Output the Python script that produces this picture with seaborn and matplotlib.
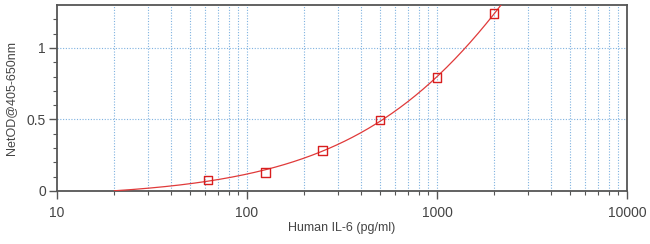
import numpy as np
import pandas as pd
import seaborn as sns
import matplotlib
matplotlib.use("Agg")
import matplotlib.pyplot as plt
from matplotlib.ticker import FixedLocator, NullFormatter, LogLocator

conc = [62.5, 125, 250, 500, 1000, 2000]
od = [0.079, 0.130, 0.284, 0.495, 0.793, 1.240]
x_ticks = [10, 100, 1000, 10000]
x_tick_labels = ["10", "100", "1000", "10000"]
y_ticks = [0, 0.5, 1]
y_tick_labels = ["0", "0.5", "1"]

sns.set_theme(style="white", rc={"xtick.bottom": True, "ytick.left": True})
plt.rcParams['font.family'] = ['Liberation Sans', 'DejaVu Sans']

df = pd.DataFrame({"conc": conc, "od": od})

# 4-parameter logistic fit of the standards (grid search on b, c; a, d by least squares)
xs = np.array(conc, float); ys = np.array(od, float)
best = None
for b in np.linspace(0.5, 3.0, 126):
    for lc in np.linspace(2.5, 5.5, 151):
        g = 1.0 / (1.0 + (xs / 10**lc) ** b)
        A = np.vstack([g, 1 - g]).T
        coef, *_ = np.linalg.lstsq(A, ys, rcond=None)
        err = np.sum((A @ coef - ys) ** 2)
        if best is None or err < best[0]:
            best = (err, b, lc, coef)
_, fb, flc, (fa, fd) = best
xf = np.logspace(np.log10(20), np.log10(2300), 300)
gf = 1.0 / (1.0 + (xf / 10**flc) ** fb)
yf = fa * gf + fd * (1 - gf)
fit = pd.DataFrame({"conc": xf, "od": yf})

fig = plt.figure(figsize=(6.5, 2.44), dpi=100)
ax = fig.add_axes([57/650, 1-191/244, (627-57)/650, (191-5)/244])

ax.set_xscale("log")
ax.set_xlim(10, 10000)
ax.set_ylim(0, 1.3)

grid_c = "#7fb2e0"
for v in [m * 10**e for e in (1, 2, 3) for m in range(2, 11)]:
    if v < 10000:
        ax.axvline(v, color=grid_c, lw=0.8, ls=(0, (1, 1.5)), zorder=0)
for h in [0.5, 1.0]:
    ax.axhline(h, color=grid_c, lw=0.8, ls=(0, (1, 1.5)), zorder=0)

sns.lineplot(data=fit, x="conc", y="od", ax=ax, color="#e03a3a", lw=0.9, zorder=3)
sns.scatterplot(data=df, x="conc", y="od", ax=ax, marker="s", s=36,
                facecolor="none", edgecolor="#d81e1e", linewidth=1.0, zorder=4)

ax.xaxis.set_major_locator(FixedLocator(x_ticks))
ax.set_xticklabels(x_tick_labels)
ax.xaxis.set_minor_locator(LogLocator(base=10, subs=np.arange(2, 10)))
ax.xaxis.set_minor_formatter(NullFormatter())
ax.yaxis.set_major_locator(FixedLocator(y_ticks))
ax.set_yticklabels(y_tick_labels)
ax.yaxis.set_minor_locator(FixedLocator([0.1, 0.2, 0.3, 0.4, 0.6, 0.7, 0.8, 0.9, 1.1, 1.2]))

spine_c = "#555555"
for s in ax.spines.values():
    s.set_color(spine_c)
    s.set_linewidth(1.3)
ax.tick_params(axis="both", which="major", direction="out", length=6, width=1,
               color=spine_c, labelcolor="#444444", labelsize=10, pad=2)
ax.tick_params(axis="both", which="minor", direction="out", length=3, width=0.8,
               color=spine_c)
ax.tick_params(axis="x", which="major", pad=5)

ax.set_xlabel("Human IL-6 (pg/ml)", fontsize=9, color="#444444", labelpad=1)
ax.set_ylabel("NetOD@405-650nm", fontsize=9, color="#444444", labelpad=7)
ax.grid(False)

fig.savefig("out.png", dpi=100)
